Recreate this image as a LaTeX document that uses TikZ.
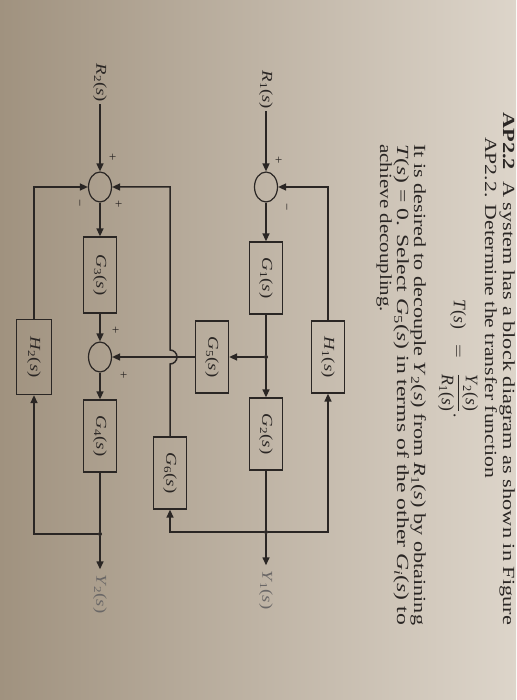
\documentclass[tikz,border=0pt]{standalone}
\usepackage{fontspec}
\setmainfont{Liberation Serif}
\usepackage{graphicx}
\usetikzlibrary{shapes.geometric,arrows.meta}
\definecolor{ink}{HTML}{2A2624}
\definecolor{pleft}{HTML}{A0927F}
\definecolor{pmid}{HTML}{CBC0B3}
\definecolor{pright}{HTML}{DDD5CA}
\newcommand\tline[2]{\resizebox{#1}{\height}{#2}}
\newcommand\blab[2]{\scalebox{1.25}[1]{\textit{#1}\textsubscript{#2}(\textit{s})}}
\begin{document}
\begin{tikzpicture}[x=1pt,y=-1pt,
  blk/.style={draw=ink,line width=1.3pt,minimum width=33pt,minimum height=72pt,inner sep=0pt,text=ink,font=\fontsize{15}{15}\selectfont},
  sumj/.style={draw=ink,line width=1.2pt,ellipse,minimum width=23pt,minimum height=30pt,inner sep=0pt},
  lbl/.style={rotate=-90,text=ink,inner sep=2pt,font=\fontsize{15}{15}\selectfont},
  sgn/.style={rotate=-90,text=ink,inner sep=0pt,font=\fontsize{13}{13}\selectfont},
  body/.style={rotate=-90,anchor=base west,text=ink,inner sep=0pt,font=\fontsize{17}{17}\selectfont},
  wire/.style={draw=ink,line width=1.5pt},
  arr/.style={wire,-{Triangle[length=8pt,width=7pt]}},
  dot/.style={circle,fill=ink,inner sep=0pt,minimum size=4pt}]
\shade[left color=pleft, middle color=pmid, right color=pright] (0,0) rectangle (516,700);
\useasboundingbox (0,0) rectangle (516,700);

% ---- text ----
\node[body] (t1) at (503,112) {\tline{513pt}{\textbf{AP2.2}\enspace A system has a block diagram as shown in Figure}};
\node[body] (t2) at (485,137) {\tline{341pt}{AP2.2. Determine the transfer function}};
\node[rotate=-90,text=ink,inner sep=0pt] (eq) at (458,359) {\resizebox{118pt}{!}{$\displaystyle \mbox{\textit{T}(\textit{s})}\;\;=\;\; \frac{\mbox{\textit{Y}\textsubscript{2}(\textit{s})}}{\mbox{\textit{R}\textsubscript{1}(\textit{s})}}\mbox{.}$}};
\node[body] (t3) at (414,144) {\tline{481pt}{It is desired to decouple \textit{Y}\textsubscript{2}(\textit{s}) from \textit{R}\textsubscript{1}(\textit{s}) by obtaining}};
\node[body] (t4) at (397,144) {\tline{481pt}{\textit{T}(\textit{s}) = 0. Select \textit{G}\textsubscript{5}(\textit{s}) in terms of the other \textit{G}\textsubscript{\textit{i}}(\textit{s}) to}};
\node[body] (t5) at (380,144) {\tline{168pt}{achieve decoupling.}};

% ---- blocks ----
\node[blk] (G1) at (266,278) {\rotatebox{-90}{\blab{G}{1}}};
\node[blk] (G2) at (266,434) {\rotatebox{-90}{\blab{G}{2}}};
\node[blk] (H1) at (328,357) {\rotatebox{-90}{\blab{H}{1}}};
\node[blk] (G5) at (212,357) {\rotatebox{-90}{\blab{G}{5}}};
\node[blk,minimum height=76pt] (G3) at (100,275) {\rotatebox{-90}{\blab{G}{3}}};
\node[blk] (G4) at (100,436) {\rotatebox{-90}{\blab{G}{4}}};
\node[blk,minimum width=35pt,minimum height=75pt] (H2) at (34,357) {\rotatebox{-90}{\blab{H}{2}}};
\node[blk] (G6) at (170,473) {\rotatebox{-90}{\blab{G}{6}}};

% ---- summing junctions ----
\node[sumj] (S1) at (266,187) {};
\node[sumj] (S2) at (100,187) {};
\node[sumj] (S3) at (100,357) {};

% ---- junction dots ----
\node[dot] (j1) at (266,357) {};
\node[dot] (j2) at (266,532) {};
\node[dot] (j3) at (100,534) {};

% ---- signal labels ----
\node[lbl] (r1) at (266,90) {\scalebox{1.25}[1]{\textit{R}\textsubscript{1}(\textit{s})}};
\node[lbl] (r2) at (100,83) {\scalebox{1.25}[1]{\textit{R}\textsubscript{2}(\textit{s})}};
\node[lbl,text=ink!70] (y1) at (266,590) {\scalebox{1.25}[1]{\textit{Y}\textsubscript{1}(\textit{s})}};
\node[lbl,text=ink!70] (y2) at (100,594) {\scalebox{1.25}[1]{\textit{Y}\textsubscript{2}(\textit{s})}};

% ---- signs ----
\node[sgn] (p1) at (278,160) {+};
\node[sgn] (m1) at (285,207) {−};
\node[sgn] (p2) at (112,157) {+};
\node[sgn] (m2) at (78,203) {−};
\node[sgn] (p3) at (118,204) {+};
\node[sgn] (p4) at (115,330) {+};
\node[sgn] (p5) at (123,375) {+};

% ---- connectors ----
\draw[arr] (r1) -- (S1);
\draw[arr] (S1) -- (G1);
\draw[wire] (G1) -- (j1);
\draw[arr] (j1) -- (G2);
\draw[arr] (j1) -- (G5);
\draw[wire] (G2) -- (j2);
\draw[arr,shorten >=3pt] (j2) -- (y1);
\draw[arr] (j2) -| (H1);
\draw[arr] (H1) |- (S1);
\draw[arr] (j2) -| (G6);
\draw[arr] (G6) -- (170,364) arc[start angle=90,end angle=-90,radius=7] -- (170,187) -- (S2);
\draw[arr] (r2) -- (S2);
\draw[arr] (S2) -- (G3);
\draw[arr] (G3) -- (S3);
\draw[arr] (G5) -- (S3);
\draw[arr] (S3) -- (G4);
\draw[wire] (G4) -- (j3);
\draw[arr,shorten >=3pt] (j3) -- (y2);
\draw[arr] (j3) -| (H2);
\draw[arr] (H2) |- (S2);
\end{tikzpicture}
\end{document}
